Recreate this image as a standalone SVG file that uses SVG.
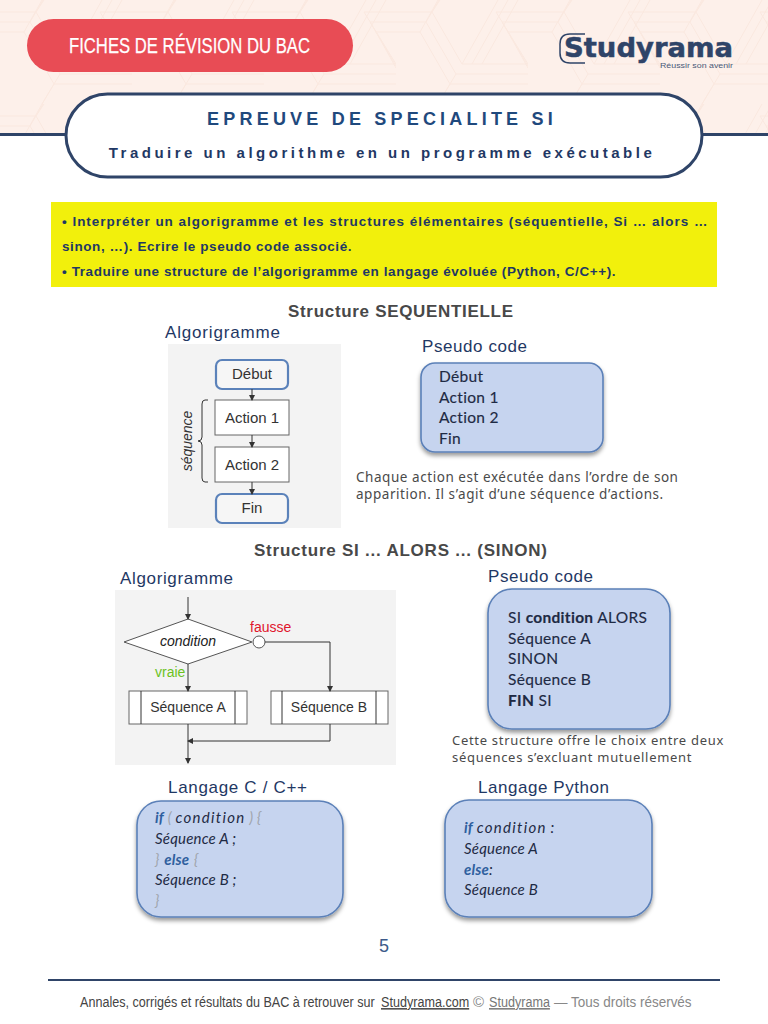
<svg xmlns="http://www.w3.org/2000/svg" width="768" height="1024" viewBox="0 0 768 1024">
<style>
text{font-family:"Liberation Sans",Arial,sans-serif}
.h{font-size:17px;fill:#1f3864}
.st{font-size:17px;font-weight:bold;fill:#484848}
.y{font-size:13.5px;font-weight:bold;fill:#1f3864;letter-spacing:.58px}
.blue{fill:#c6d4ef;stroke:#5b80b8;stroke-width:1.6;filter:url(#sh)}
.pc{font-family:Lato,"Noto Sans",sans-serif;font-size:15.5px;fill:#1e2a44;letter-spacing:.3px;stroke:#1e2a44;stroke-width:.15}
.it{font-family:Lato,"Noto Sans",sans-serif;font-size:15px;font-style:italic;fill:#1e2a44;letter-spacing:.2px}
.cw{letter-spacing:1.3px}
.kw{font-weight:bold;fill:#2f5f9e}
.gr{fill:#a0a4ac}
.note{font-family:"Noto Sans",sans-serif;font-size:13.5px;fill:#4a4a4a;letter-spacing:.55px}
.fc{font-size:15px;fill:#333}
.sq{font-size:14px;fill:#333}
.ln{fill:none;stroke:#333;stroke-width:1}
.box{fill:#fff;stroke:#666;stroke-width:1}
.term{fill:#f6f6f6;stroke:#5b82ba;stroke-width:2.2}
.ft{font-size:15px}
</style>
<defs>
<filter id="sh" x="-10%" y="-10%" width="120%" height="125%"><feDropShadow dx="0" dy="3" stdDeviation="2" flood-color="#000" flood-opacity=".4"/></filter>
<pattern id="pt" width="132" height="104" patternUnits="userSpaceOnUse">
<path d="M0 12H36L66 64H132M0 22H30L60 74H132M0 32H24L54 84H132M36 12L44 0M30 22L43 0M24 32L42 0M66 64L102 0M76 64L112 0M86 64L122 0M54 84L42 104M60 74L42 104M132 12H100M132 22H106M132 32H112M112 32L132 68M106 22L132 66M100 12L132 64" fill="none" stroke="#fae8df" stroke-width="1"/>
</pattern>
<marker id="a" markerWidth="6" markerHeight="6" refX="5" refY="3" orient="auto"><path d="M0 0L6 3L0 6Z" fill="#333"/></marker>
</defs>
<rect width="768" height="1024" fill="#fff"/>
<g id="header">
<rect width="768" height="133" fill="#fdf0ea"/>
<rect width="768" height="133" fill="url(#pt)"/>
<rect y="133" width="768" height="3" fill="#2f4468"/>
<rect x="27" y="19" width="326" height="53" rx="26.5" fill="#e84c55"/>
<text x="69" y="53" font-size="22" fill="#fff" stroke="#fff" stroke-width=".25" textLength="241" lengthAdjust="spacingAndGlyphs">FICHES DE RÉVISION DU BAC</text>
</g>
<g id="logo">
<path d="M585 34H570Q560 34 560 44V53Q560 63 570 63H585" fill="none" stroke="#2f4468" stroke-width="1.5"/>
<text x="564" y="57" font-size="26" font-weight="bold" fill="#2f4468" stroke="#2f4468" stroke-width=".5" textLength="169" lengthAdjust="spacingAndGlyphs" style="font-family:'DejaVu Sans',sans-serif">Studyrama</text>
<text x="660" y="68" font-size="7.5" fill="#4a5a78" textLength="73" lengthAdjust="spacingAndGlyphs">Réussir son avenir</text>
</g>
<g id="title">
<rect x="66" y="94" width="636" height="83" rx="41.5" fill="#fff" stroke="#2f4468" stroke-width="3"/>
<text x="382" y="125" text-anchor="middle" font-size="18" font-weight="bold" fill="#1f497d" letter-spacing="4.2">EPREUVE DE SPECIALITE SI</text>
<text x="382" y="158" text-anchor="middle" font-size="15" font-weight="bold" fill="#1f3864" letter-spacing="3.5">Traduire un algorithme en un programme exécutable</text>
</g>
<g id="objectives">
<rect x="51" y="202" width="666" height="85" fill="#f2f00c"/>
<text class="y" x="62" y="226" textLength="646">• Interpréter un algorigramme et les structures élémentaires (séquentielle, Si … alors …</text>
<text class="y" x="62" y="251">sinon, …). Ecrire le pseudo code associé.</text>
<text class="y" x="62" y="276">• Traduire une structure de l’algorigramme en langage évoluée (Python, C/C++).</text>
</g>
<text class="st" x="288" y="317" textLength="225">Structure SEQUENTIELLE</text>
<g id="seq-algo">
<text class="h" x="165" y="338" textLength="115">Algorigramme</text>
<rect x="168" y="344" width="173" height="184" fill="#f3f3f3"/>
</g>
<g id="debut"><rect class="term" x="216" y="360" width="72" height="29" rx="6"/><text class="fc" x="252" y="379" text-anchor="middle">Début</text></g>
<g id="action1"><rect class="box" x="215" y="400" width="74" height="35"/><text class="fc" x="252" y="423" text-anchor="middle">Action 1</text></g>
<g id="action2"><rect class="box" x="215" y="447" width="74" height="35"/><text class="fc" x="252" y="470" text-anchor="middle">Action 2</text></g>
<g id="fin"><rect class="term" x="216" y="494" width="72" height="29" rx="6"/><text class="fc" x="252" y="513" text-anchor="middle">Fin</text></g>
<g id="sequence-brace">
<path class="ln" d="M208 400H205Q202 400 202 404V437Q202 441 198 441Q202 441 202 445V478Q202 482 205 482H208"/>
<text transform="translate(192 441) rotate(-90)" text-anchor="middle" font-size="14" font-style="italic" fill="#333">séquence</text>
</g>
<g id="seq-connectors">
<path class="ln" d="M252 389V400" marker-end="url(#a)"/>
<path class="ln" d="M252 435V447" marker-end="url(#a)"/>
<path class="ln" d="M252 482V494" marker-end="url(#a)"/>
</g>
<g id="seq-pseudo">
<text class="h" x="422" y="352" textLength="105">Pseudo code</text>
<rect class="blue" x="421" y="363" width="182" height="89" rx="14"/>
<text class="pc" x="439" y="382">Début</text>
<text class="pc" x="439" y="403">Action 1</text>
<text class="pc" x="439" y="423">Action 2</text>
<text class="pc" x="439" y="444">Fin</text>
<text class="note" x="356" y="482">Chaque action est exécutée dans l’ordre de son</text>
<text class="note" x="356" y="499">apparition. Il s’agit d’une séquence d’actions.</text>
</g>
<text class="st" x="254" y="556" textLength="293">Structure SI ... ALORS ... (SINON)</text>
<g id="si-algo">
<text class="h" x="120" y="584" textLength="113">Algorigramme</text>
<rect x="115" y="590" width="281" height="175" fill="#f3f3f3"/>
</g>
<g id="condition"><path d="M124 642L188 619L252 642L188 664Z" fill="#fff" stroke="#555" stroke-width="1"/><text x="188" y="646" text-anchor="middle" font-size="14" font-style="italic" fill="#222">condition</text></g>
<g id="sequence-a"><rect class="box" x="129" y="691" width="118" height="33"/><path class="ln" d="M141 691V724M235 691V724"/><text class="sq" x="188" y="712" text-anchor="middle">Séquence A</text></g>
<g id="sequence-b"><rect class="box" x="271" y="691" width="117" height="33"/><path class="ln" d="M282 691V724M376 691V724"/><text class="sq" x="329" y="712" text-anchor="middle">Séquence B</text></g>
<g id="si-connectors">
<path class="ln" d="M188 597V619" marker-end="url(#a)"/>
<path class="ln" d="M188 664V691" marker-end="url(#a)"/>
<circle cx="259" cy="642" r="6" fill="#fff" stroke="#555"/>
<path class="ln" d="M265 642H330V691" marker-end="url(#a)"/>
<path class="ln" d="M330 724V741H188" marker-end="url(#a)"/>
<path class="ln" d="M188 724V763" marker-end="url(#a)"/>
<text x="250" y="632" font-size="14" fill="#e0152d">fausse</text>
<text x="155" y="677" font-size="14" fill="#6cc21f">vraie</text>
</g>
<g id="si-pseudo">
<text class="h" x="488" y="582" textLength="105">Pseudo code</text>
<rect class="blue" x="488" y="589" width="182" height="140" rx="24"/>
<text class="pc" x="508" y="623">SI <tspan font-weight="bold">condition</tspan> ALORS</text>
<text class="pc" x="508" y="644">Séquence A</text>
<text class="pc" x="508" y="664">SINON</text>
<text class="pc" x="508" y="685">Séquence B</text>
<text class="pc" x="508" y="706"><tspan font-weight="bold">FIN</tspan> SI</text>
<text class="note" x="452" y="745" style="font-size:13px;letter-spacing:.7px">Cette structure offre le choix entre deux</text>
<text class="note" x="452" y="762" style="font-size:13px;letter-spacing:.7px">séquences s’excluant mutuellement</text>
</g>
<g id="lang-c">
<text class="h" x="168" y="793" textLength="139">Langage C / C++</text>
<rect class="blue" x="137" y="801" width="206" height="116" rx="24"/>
<text class="it" x="155" y="823"><tspan class="kw">if</tspan> <tspan class="gr">(</tspan> <tspan class="cw">condition</tspan> <tspan class="gr">) {</tspan></text>
<text class="it" x="155" y="844">Séquence A ;</text>
<text class="it" x="155" y="865" word-spacing="1"><tspan class="gr">}</tspan> <tspan class="kw">else</tspan> <tspan class="gr">{</tspan></text>
<text class="it" x="155" y="885">Séquence B ;</text>
<text class="it gr" x="155" y="906">}</text>
</g>
<g id="lang-python">
<text class="h" x="478" y="793" textLength="131">Langage Python</text>
<rect class="blue" x="445" y="800" width="207" height="117" rx="24"/>
<text class="it" x="464" y="833"><tspan class="kw">if</tspan> <tspan class="cw">condition</tspan> :</text>
<text class="it" x="464" y="854">Séquence A</text>
<text class="it" x="464" y="875"><tspan class="kw">else</tspan>:</text>
<text class="it" x="464" y="895">Séquence B</text>
</g>
<text x="384" y="952" text-anchor="middle" font-size="18" fill="#3d5a8a">5</text>
<g id="footer">
<rect x="48" y="979" width="672" height="2" fill="#2f4468"/>
<text class="ft" transform="translate(80 1007) scale(.84 1)" fill="#444">Annales, corrigés et résultats du BAC à retrouver sur</text>
<text class="ft" transform="translate(381 1007) scale(.84 1)" fill="#444" text-decoration="underline">Studyrama.com</text>
<text class="ft" x="473" y="1007" fill="#888">©</text>
<text class="ft" transform="translate(489 1007) scale(.84 1)" fill="#777" text-decoration="underline">Studyrama</text>
<text class="ft" transform="translate(554 1007) scale(.9 1)" fill="#888">— Tous droits réservés</text>
</g>
</svg>
